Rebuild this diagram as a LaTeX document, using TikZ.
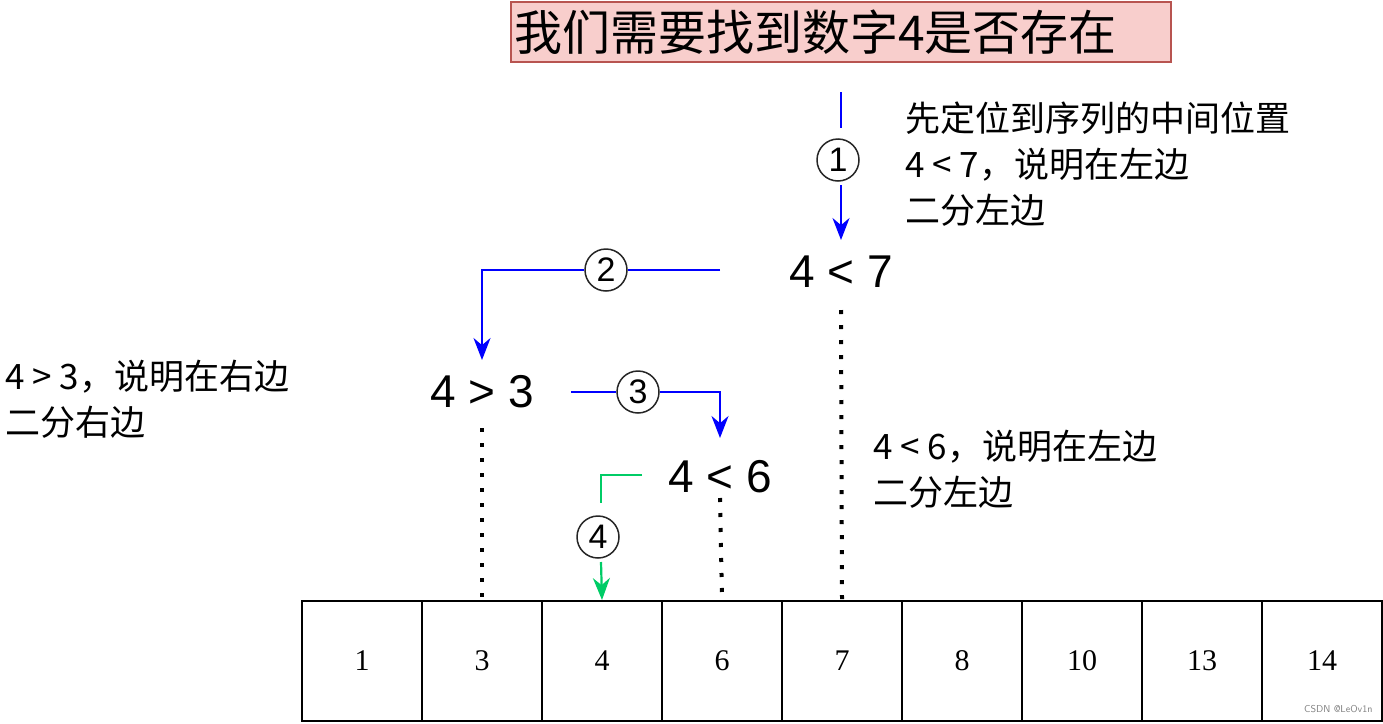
\documentclass[tikz,border=0pt]{standalone}
\usepackage{fontspec}
\setmainfont{Liberation Serif}
\newfontfamily\cjk{Noto Sans CJK SC}
\newfontfamily\lsans{Liberation Sans}
\usetikzlibrary{arrows.meta}
\definecolor{pinkf}{HTML}{F8CECC}
\definecolor{redb}{HTML}{B85450}
\definecolor{gr}{HTML}{00CC66}
\begin{document}
\begin{tikzpicture}[x=1pt,y=-1pt,
  cell/.style={draw,line width=2pt,minimum width=120pt,minimum height=120pt,inner sep=0,font=\fontsize{30}{30}\selectfont},
  cmp/.style={font=\lsans\fontsize{46}{48}\selectfont,inner sep=0},
  note/.style={font=\cjk\fontsize{35}{46}\selectfont,align=left,anchor=north west,inner sep=0},
  num/.style={circle,draw=black!85,line width=1.5pt,minimum size=42pt,inner sep=0,font=\lsans\fontsize{34}{34}\selectfont},
  bl/.style={blue,line width=2.2pt},
  arr/.style={-{Stealth[length=22pt,width=17pt]}},
  dot/.style={line width=4pt,dash pattern=on 4pt off 11pt}]
\useasboundingbox (0,0) rectangle (1383,723);
\fill[white] (0,0) rectangle (1383,723);
\node[draw=redb,fill=pinkf,line width=2pt,minimum width=660pt,minimum height=60pt,text width=654pt,align=left,font=\cjk\fontsize{48}{48}\selectfont,inner sep=0] (title) at (841,32) {我们需要找到数字4是否存在};
% array
\foreach \v [count=\i] in {1,3,4,6,7,8,10,13,14}
  \node[cell] (c\i) at ({302+60+(\i-1)*120},661) {\v};
\node[font=\sffamily\fontsize{10}{10}\selectfont,text=gray,anchor=south east] (wm) at (1376,716) {CSDN @LeOv1n};
% step 1
\coordinate (s1a) at (841,92);
\coordinate (s1b) at (841,128);
\node[num] (n1) at (838,160) {1};
\node[cmp] (k7) at (841,272) {4 < 7};
\draw[bl] (s1a) -- (s1b);
\draw[bl,arr] (841,185) -- (841,240);
\node[note] (t1) at (905,102) {先定位到序列的中间位置\\4 < 7，说明在左边\\二分左边};
% step 2
\node[num] (n2) at (606,270) {2};
\node[cmp] (k3) at (482,392) {4 > 3};
\coordinate (s2a) at (720,270);
\draw[bl] (s2a) -- (n2.east);
\draw[bl,arr] (n2.west) -- (482,270) -- (482,360);
\node[note] (t2) at (5,360) {4 > 3，说明在右边\\二分右边};
% step 3
\node[num] (n3) at (638,392) {3};
\node[cmp] (k6) at (720,477) {4 < 6};
\draw[bl] (571,392) -- (n3.west);
\draw[bl,arr] (n3.east) -- (720,392) -- (720,438);
\node[note] (t3) at (873,430) {4 < 6，说明在左边\\二分左边};
% step 4
\node[num] (n4) at (598,537) {4};
\draw[gr,line width=2.2pt] (642,475) -- (601,475) -- (601,503);
\draw[gr,line width=2.2pt,arr] (601,562) -- (c3.north);
% dotted
\draw[dot] (841,310) -- (c5.north);
\draw[dot] (482,428) -- (c2.north);
\draw[dot] (720,498) -- (c4.north);
\end{tikzpicture}
\end{document}
